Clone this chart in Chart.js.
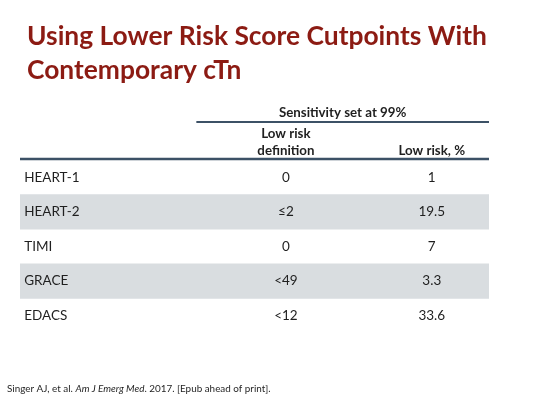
<!DOCTYPE html>
<html><head><meta charset="utf-8">
<script src="https://cdn.jsdelivr.net/npm/chart.js@4"></script>
<style>html,body{margin:0;padding:0;background:#fff;}#wrap{width:540px;height:405px;position:relative;}</style>
</head><body><div id="wrap"><canvas id="c" width="540" height="405"></canvas></div>
<script>
const titleLines = ['Using Lower Risk Score Cutpoints With', 'Contemporary cTn'];
const groupHeader = 'Sensitivity set at 99%';
const colHeaders = [['Low risk', 'definition'], ['Low risk, %']];
const rowLabels = ['HEART-1', 'HEART-2', 'TIMI', 'GRACE', 'EDACS'];
const lowRiskDefinition = ['0', '≤2', '0', '<49', '<12'];
const lowRiskPct = [1, 19.5, 7, 3.3, 33.6];
const footnote = ['Singer AJ, et al. ', 'Am J Emerg Med', '. 2017. [Epub ahead of print].'];

const TEXT = '#1f1f1f', RULE = '#3c5166', BAND = '#d9dde0';
const colX = [0.009, 0.567, 0.878]; // column anchor positions on x scale (0..1)

const tablePlugin = {
  id: 'tableText',
  afterDraw(chart) {
    const ctx = chart.ctx, xs = chart.scales.x, ys = chart.scales.y;
    const left = xs.getPixelForValue(0), right = xs.getPixelForValue(1);
    ctx.save();
    // title
    ctx.fillStyle = '#8c1b13';
    ctx.font = 'bold 26.4px Lato';
    ctx.textAlign = 'left'; ctx.textBaseline = 'alphabetic';
    ctx.fillText(titleLines[0], 27, 45);
    ctx.fillText(titleLines[1], 27, 79);
    // group header
    const c2 = xs.getPixelForValue(colX[1]), c3 = xs.getPixelForValue(colX[2]);
    const gL = xs.getPixelForValue(0.376);
    ctx.fillStyle = TEXT;
    ctx.font = 'bold 13.3px Lato';
    ctx.textAlign = 'center';
    ctx.fillText(groupHeader, (gL + right) / 2, 117);
    ctx.strokeStyle = RULE; ctx.lineWidth = 2;
    ctx.beginPath(); ctx.moveTo(gL, 122); ctx.lineTo(right, 122); ctx.stroke();
    ctx.fillText(colHeaders[0][0], c2, 138);
    ctx.fillText(colHeaders[0][1], c2, 155);
    ctx.fillText(colHeaders[1][0], c3, 155);
    ctx.lineWidth = 2.5;
    const top = chart.chartArea.top;
    ctx.beginPath(); ctx.moveTo(left, top - 1); ctx.lineTo(right, top - 1); ctx.stroke();
    // rows
    ctx.font = '13.5px Lato';
    ctx.textBaseline = 'middle';
    rowLabels.forEach((lab, i) => {
      const y = ys.getPixelForValue(i);
      ctx.textAlign = 'left';
      ctx.fillText(lab, xs.getPixelForValue(colX[0]), y);
      ctx.textAlign = 'center';
      ctx.fillText(lowRiskDefinition[i], c2, y);
      ctx.fillText(String(lowRiskPct[i]), c3, y);
    });
    // footnote
    ctx.textBaseline = 'alphabetic'; ctx.textAlign = 'left';
    let x = 7;
    footnote.forEach((t, i) => {
      ctx.font = (i === 1 ? 'italic ' : '') + '9.9px Lato';
      ctx.fillText(t, x, 392);
      x += ctx.measureText(t).width;
    });
    ctx.restore();
  }
};

new Chart(document.getElementById('c'), {
  type: 'bar',
  data: {
    labels: rowLabels,
    datasets: [{
      data: rowLabels.map(() => 1),
      backgroundColor: rowLabels.map((_, i) => i % 2 ? BAND : 'rgba(255,255,255,0)'),
      borderWidth: 0,
      barPercentage: 1,
      categoryPercentage: 1
    }]
  },
  options: {
    indexAxis: 'y',
    responsive: false,
    animation: false,
    devicePixelRatio: 1,
    layout: { padding: { left: 20, right: 51, top: 160, bottom: 72 } },
    plugins: { legend: { display: false }, tooltip: { enabled: false } },
    scales: {
      x: { type: 'linear', min: 0, max: 1, display: false },
      y: { type: 'category', display: false }
    }
  },
  plugins: [tablePlugin]
});
</script></body></html>
